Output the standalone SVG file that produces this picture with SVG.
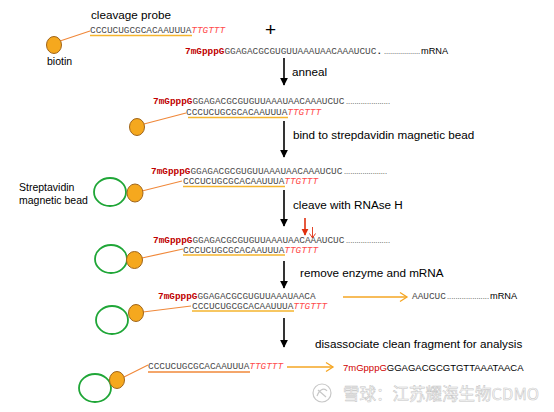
<svg xmlns="http://www.w3.org/2000/svg" width="554" height="412" viewBox="0 0 554 412">
<style>
.seq{font-family:"Liberation Mono","Courier New",monospace;font-size:9.4px;fill:#4a4a4a}
.cap{fill:#c00000;font-weight:bold}
.tt{fill:#ff4d4d;font-style:italic}
.lbl{font-family:"Liberation Sans",Arial,sans-serif;font-size:11.7px;fill:#000}
.sm{font-family:"Liberation Sans",Arial,sans-serif;font-size:9.2px;fill:#000}
.dots{font-family:"Liberation Sans",Arial,sans-serif;font-size:7.5px;fill:#333}
.ul{stroke:#f5b52e;stroke-width:1.5}
.teth{stroke:#f0883a;stroke-width:1.2;fill:none}
.bio{fill:#f5a81e;stroke:#a0651a;stroke-width:1}
.bead{fill:none;stroke:#1fa637;stroke-width:1.8}
.step{stroke:#000;stroke-width:1.6;fill:none;marker-end:url(#ah)}
.oar{stroke:#f5a623;stroke-width:1.3;fill:none}
</style>
<defs>
<marker id="ah" viewBox="0 0 10 10" refX="9" refY="5" markerWidth="5" markerHeight="5" orient="auto" markerUnits="strokeWidth">
<path d="M0,0 L10,5 L0,10 Z" fill="#000"/>
</marker>
<marker id="rh" viewBox="0 0 10 10" refX="9" refY="5" markerWidth="4.5" markerHeight="4.5" orient="auto" markerUnits="strokeWidth">
<path d="M0,0 L10,5 L0,10 Z" fill="#e03010"/>
</marker>
</defs>
<rect width="554" height="412" fill="#fff"/>

<g id="probe">
<text class="lbl" x="91" y="19">cleavage probe</text>
<line class="teth" x1="60" y1="41" x2="90" y2="31"/>
<ellipse class="bio" cx="54" cy="45" rx="7.5" ry="8.5"/>
<text class="sm" x="47" y="65" style="font-size:10.5px">biotin</text>
<text class="seq" x="90" y="33">CCCUCUGCGCACAAUUUA<tspan class="tt">TTGTTT</tspan></text>
<line class="ul" x1="90" y1="35.5" x2="192" y2="35.5"/>
</g>
<text id="plus" class="lbl" x="265" y="36" style="font-size:19px">+</text>

<g id="mrna">
<text class="seq" x="185" y="54"><tspan class="cap">7mGpppG</tspan>GGAGACGCGUGUUAAAUAACAAAUCUC</text>
<text class="sm" x="378" y="54" style="font-weight:bold;fill:#222">.</text>
<text class="dots" x="384" y="54" textLength="36" lengthAdjust="spacing">..................</text>
<text class="sm" x="421" y="54">mRNA</text>
</g>

<g id="annealed">
<text class="seq" x="153" y="104"><tspan class="cap">7mGpppG</tspan>GGAGACGCGUGUUAAAUAACAAAUCUC</text>
<text class="dots" x="346" y="104" textLength="44" lengthAdjust="spacing">.....................</text>
<text class="seq" x="186" y="115">CCCUCUGCGCACAAUUUA<tspan class="tt">TTGTTT</tspan></text>
<line class="ul" x1="188" y1="117.5" x2="288" y2="117.5"/>
<line class="teth" x1="144" y1="124" x2="186" y2="113"/>
<ellipse class="bio" cx="137" cy="127" rx="7.5" ry="8.5"/>
</g>

<g id="bound">
<text class="sm" x="19" y="191" style="font-size:10.5px">Streptavidin</text>
<text class="sm" x="19" y="204" style="font-size:10.5px">magnetic bead</text>
<ellipse class="bead" cx="110" cy="192" rx="16" ry="14"/>
<line class="teth" x1="142" y1="191" x2="182" y2="181"/>
<ellipse class="bio" cx="135" cy="193" rx="8" ry="9"/>
<text class="seq" x="151" y="174"><tspan class="cap">7mGpppG</tspan>GGAGACGCGUGUUAAAUAACAAAUCUC</text>
<text class="dots" x="344" y="174" textLength="43" lengthAdjust="spacing">.....................</text>
<text class="seq" x="183" y="184">CCCUCUGCGCACAAUUUA<tspan class="tt">TTGTTT</tspan></text>
<line class="ul" x1="183" y1="186.5" x2="285" y2="186.5"/>
</g>

<g id="cleave">
<ellipse class="bead" cx="111" cy="259" rx="16" ry="14"/>
<line class="teth" x1="142" y1="258" x2="183" y2="249"/>
<ellipse class="bio" cx="134.5" cy="260" rx="8" ry="8.5"/>
<text class="seq" x="153" y="242.5"><tspan class="cap">7mGpppG</tspan>GGAGACGCGUGUUAAAUAACAAAUCUC</text>
<text class="dots" x="346" y="242.5" textLength="44" lengthAdjust="spacing">.....................</text>
<text class="seq" x="183" y="252.5">CCCUCUGCGCACAAUUUA<tspan class="tt">TTGTTT</tspan></text>
<line class="ul" x1="183" y1="255" x2="285" y2="255"/>
<line x1="305" y1="218" x2="305" y2="235" stroke="#e03010" stroke-width="1.6" marker-end="url(#rh)"/>
<line x1="312.5" y1="227" x2="312.5" y2="238" stroke="#e03010" stroke-width="0.9"/>
<path d="M309.5,233.5 L312.5,238 L315.5,233.5" stroke="#e03010" stroke-width="0.9" fill="none"/>
</g>

<g id="removed">
<ellipse class="bead" cx="112" cy="320" rx="16" ry="14"/>
<line class="teth" x1="143" y1="312" x2="191" y2="306"/>
<ellipse class="bio" cx="136" cy="313" rx="7.5" ry="8.5"/>
<text class="seq" x="158" y="298.5"><tspan class="cap">7mGpppG</tspan>GGAGACGCGUGUUAAAUAACA</text>
<text class="seq" x="192" y="308.5">CCCUCUGCGCACAAUUUA<tspan class="tt">TTGTTT</tspan></text>
<line class="ul" x1="192" y1="311" x2="294" y2="311"/>
</g>

<g id="freed-mrna">
<text class="seq" x="412" y="299">AAUCUC</text>
<text class="dots" x="447" y="299" textLength="42" lengthAdjust="spacing">....................</text>
<text class="sm" x="490" y="299">mRNA</text>
</g>

<g id="final-bead">
<ellipse class="bead" cx="95" cy="388" rx="16" ry="14"/>
<line class="teth" x1="124" y1="377" x2="148" y2="365"/>
<ellipse class="bio" cx="117" cy="380" rx="7.5" ry="8.5"/>
<text class="seq" x="148" y="369">CCCUCUGCGCACAAUUUA<tspan class="tt">TTGTTT</tspan></text>
<line x1="148" y1="372" x2="250" y2="372" stroke="#f0883a" stroke-width="1.5"/>
</g>

<g id="fragment">
<text x="343" y="370.5" style="font-family:'Liberation Sans',Arial,sans-serif;font-size:9.5px;fill:#000"><tspan fill="#d00000">7mGpppG</tspan>GGAGACGCGTGTTAAATAACA</text>
</g>

<g id="connectors">
<line class="step" x1="284" y1="58" x2="284" y2="85"/>
<line class="step" x1="284" y1="121" x2="284" y2="157"/>
<line class="step" x1="284" y1="190" x2="284" y2="226"/>
<line class="step" x1="284" y1="261" x2="284" y2="288"/>
<line class="step" x1="284" y1="318" x2="284" y2="347"/>
<line class="oar" x1="343" y1="297" x2="407" y2="297"/>
<path class="oar" d="M400,292.5 L407,297 L400,301.5"/>
<line class="oar" x1="287" y1="367" x2="333" y2="367"/>
<path class="oar" d="M326,362.5 L333,367 L326,371.5"/>
</g>

<g id="labels">
<text class="lbl" x="292" y="76">anneal</text>
<text class="lbl" x="293" y="139">bind to strepdavidin magnetic bead</text>
<text class="lbl" x="293" y="209">cleave with RNAse H</text>
<text class="lbl" x="300" y="277">remove enzyme and mRNA</text>
<text class="lbl" x="315" y="348">disassociate clean fragment for analysis</text>
</g>

<g id="watermark">
<circle cx="322" cy="393" r="9" fill="#fff" stroke="#c8c8c8" stroke-width="1.2"/>
<path d="M317,396 C320,388 325,388 327,391 M318,390 L326,397" stroke="#c8c8c8" stroke-width="1.2" fill="none"/>
<text x="343" y="400" style="font-family:'Noto Sans CJK SC','Liberation Sans',sans-serif;font-size:16.5px;fill:#fafafa;stroke:#c4c4c4;stroke-width:0.5">雪球：江苏耀海生物CDMO</text>
</g>
</svg>
